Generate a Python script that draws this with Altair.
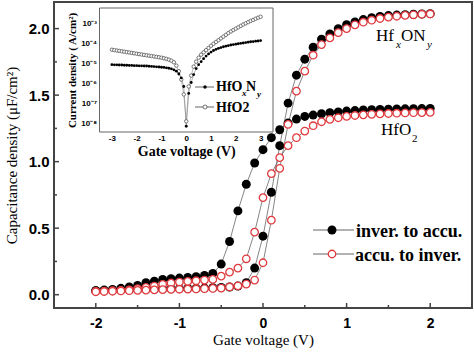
import altair as alt
import numpy as np
import pandas as pd

# ---- C-V sweeps (0.1 V steps from -2 V to 2 V) ----
bias = [round(-2.0 + 0.1 * i, 1) for i in range(41)]

hfo2_inv = [0.030, 0.035, 0.040, 0.048, 0.058, 0.070, 0.090, 0.102, 0.115, 0.120,
            0.125, 0.130, 0.135, 0.145, 0.160, 0.230, 0.400, 0.630, 0.830, 0.990,
            1.090, 1.180, 1.240, 1.290, 1.320, 1.340, 1.350, 1.360, 1.368, 1.374,
            1.380, 1.384, 1.388, 1.390, 1.392, 1.394, 1.396, 1.397, 1.398, 1.399, 1.400]
hfo2_acc = [0.025, 0.027, 0.030, 0.033, 0.037, 0.045, 0.055, 0.065, 0.078, 0.088,
            0.095, 0.100, 0.105, 0.110, 0.115, 0.140, 0.170, 0.200, 0.270, 0.470,
            0.730, 0.910, 1.030, 1.120, 1.180, 1.230, 1.270, 1.300, 1.318, 1.330,
            1.340, 1.347, 1.352, 1.356, 1.359, 1.362, 1.364, 1.366, 1.368, 1.369, 1.370]
hfon_inv = [0.030, 0.032, 0.034, 0.036, 0.038, 0.040, 0.042, 0.043, 0.044, 0.045,
            0.046, 0.047, 0.048, 0.050, 0.052, 0.055, 0.058, 0.065, 0.090, 0.200,
            0.440, 0.770, 1.120, 1.440, 1.650, 1.770, 1.860, 1.920, 1.960, 2.000,
            2.030, 2.050, 2.068, 2.082, 2.092, 2.098, 2.102, 2.105, 2.108, 2.110, 2.112]
hfon_acc = [0.022, 0.024, 0.026, 0.028, 0.030, 0.032, 0.034, 0.036, 0.038, 0.040,
            0.041, 0.042, 0.043, 0.045, 0.047, 0.050, 0.058, 0.066, 0.080, 0.110,
            0.240, 0.560, 0.950, 1.280, 1.530, 1.680, 1.800, 1.880, 1.930, 1.970,
            2.000, 2.028, 2.048, 2.063, 2.076, 2.086, 2.093, 2.099, 2.104, 2.108, 2.110]

# ---- J-V curves (log10 of current density, 0.1 V steps from -3 V to 3 V) ----
iv_bias = [round(-3.0 + 0.1 * i, 1) for i in range(61)]
log_j_hfon = [-5.05, -5.06, -5.06, -5.07, -5.07, -5.08, -5.08, -5.09, -5.09, -5.10,
              -5.10, -5.11, -5.11, -5.12, -5.12, -5.13, -5.14, -5.15, -5.16, -5.17,
              -5.18, -5.19, -5.21, -5.23, -5.26, -5.31, -5.38, -5.52, -5.72, -6.15,
              -8.15, -6.50, -5.95, -5.55, -5.25, -5.05, -4.90, -4.75, -4.62, -4.51,
              -4.42, -4.34, -4.28, -4.23, -4.19, -4.15, -4.12, -4.09, -4.06, -4.04,
              -4.02, -4.00, -3.98, -3.96, -3.94, -3.92, -3.90, -3.89, -3.87, -3.86, -3.84]
log_j_hfo2 = [-4.30, -4.32, -4.34, -4.36, -4.38, -4.40, -4.42, -4.44, -4.46, -4.48,
              -4.50, -4.52, -4.54, -4.56, -4.58, -4.60, -4.62, -4.64, -4.66, -4.68,
              -4.70, -4.73, -4.76, -4.80, -4.85, -4.93, -5.10, -5.38, -5.80, -6.55,
              -7.90, -6.15, -5.60, -5.15, -4.90, -4.70, -4.55, -4.43, -4.32, -4.21,
              -4.10, -4.00, -3.91, -3.82, -3.73, -3.64, -3.55, -3.46, -3.38, -3.31,
              -3.24, -3.17, -3.10, -3.03, -2.97, -2.91, -2.85, -2.80, -2.74, -2.69, -2.64]

x_major = [-2, -1, 0, 1, 2]
x_minor = [-1.5, -0.5, 0.5, 1.5]
y_major = [0.0, 0.5, 1.0, 1.5, 2.0]
y_minor = [0.25, 0.75, 1.25, 1.75]
iv_x_ticks = [-3, -2, -1, 0, 1, 2, 3]
iv_y_ticks = [1e-8, 1e-7, 1e-6, 1e-5, 1e-4, 1e-3]

RED = "#e03a3e"
GREY = "#666666"
FRAME = "#444444"
SERIF = "Liberation Serif"
SANS = "Liberation Sans"
HYPHEN = "replace(datum.label, '\u2212', '-')"

W, H = 418, 306
# inset placement inside the plot area (pixels)
IX0, IX1, IY0, IY1 = 45.5, 219.0, 6.0, 130.0

frames = []
for film, inv, acc in (("HfO2", hfo2_inv, hfo2_acc), ("HfON", hfon_inv, hfon_acc)):
    frames.append(pd.DataFrame({"V": bias, "C": inv, "curve": film + "-inv", "sweep": "inv"}))
    frames.append(pd.DataFrame({"V": bias, "C": acc, "curve": film + "-acc", "sweep": "acc"}))
cv = pd.concat(frames, ignore_index=True)

iv = pd.concat([
    pd.DataFrame({"V": iv_bias, "J": 10 ** np.array(log_j_hfo2), "film": "HfO2"}),
    pd.DataFrame({"V": iv_bias, "J": 10 ** np.array(log_j_hfon), "film": "HfON"}),
], ignore_index=True)

one = pd.DataFrame({"k": [0]})

# ---- main C-V panel ----
xs = alt.Scale(domain=[-2.5, 2.5], nice=False, zero=False)
ys = alt.Scale(domain=[-0.1, 2.2], nice=False, zero=False)
x_enc = alt.X("V:Q", scale=xs, axis=alt.Axis(
    values=x_major, format="d", labelExpr=HYPHEN, ticks=False, domain=False, grid=False,
    labelFont=SANS, labelFontWeight="bold", labelFontSize=14, labelPadding=8,
    labelColor="black", title="Gate voltage (V)", titleFont=SERIF,
    titleFontWeight="normal", titleFontSize=15, titlePadding=2, titleColor="black"))
y_enc = alt.Y("C:Q", scale=ys, axis=alt.Axis(
    values=y_major, format=".1f", ticks=False, domain=False, grid=False,
    labelFont=SANS, labelFontWeight="bold", labelFontSize=15, labelPadding=5,
    labelColor="black", title="Capacitance density (μF/cm²)", titleFont=SERIF,
    titleFontWeight="normal", titleFontSize=15, titlePadding=9, titleColor="black"))

lines = alt.Chart(cv).mark_line(color=GREY, strokeWidth=0.8).encode(
    x=x_enc, y=y_enc, detail="curve:N", order="V:Q")
filled = alt.Chart(cv).transform_filter("datum.sweep == 'inv'").mark_circle(
    color="black", size=80, opacity=1).encode(x=x_enc, y=y_enc)
hollow = alt.Chart(cv).transform_filter("datum.sweep == 'acc'").mark_point(
    shape="circle", fill="white", fillOpacity=1, stroke=RED, strokeWidth=1.3,
    size=56, opacity=1).encode(x=x_enc, y=y_enc)

def x_ticks(vals, length):
    d = pd.DataFrame({"V": vals})
    return alt.Chart(d).mark_rule(color=FRAME, strokeWidth=1.5).encode(
        x=x_enc, y=alt.value(H), y2=alt.value(H - length))

def y_ticks(vals, length):
    d = pd.DataFrame({"C": vals})
    return alt.Chart(d).mark_rule(color=FRAME, strokeWidth=1.5).encode(
        y=y_enc, x=alt.value(0), x2=alt.value(length))

def label(text, x, y, size, font=SERIF, weight="normal", style="normal"):
    return alt.Chart(one).mark_text(
        text=text, font=font, fontSize=size, fontWeight=weight, fontStyle=style,
        align="left", baseline="alphabetic", color="black").encode(
        x=alt.value(x), y=alt.value(y))

def seg(x0, x1, y):
    return alt.Chart(one).mark_rule(color=GREY, strokeWidth=1).encode(
        x=alt.value(x0), x2=alt.value(x1), y=alt.value(y))

legend = [
    seg(259, 300, 228),
    alt.Chart(one).mark_circle(color="black", size=80, opacity=1).encode(
        x=alt.value(278), y=alt.value(228)),
    label("inver. to accu.", 302, 235, 18, weight="bold"),
    seg(259, 300, 252),
    alt.Chart(one).mark_point(shape="circle", fill="white", fillOpacity=1, stroke=RED,
                              strokeWidth=1.3, size=56, opacity=1).encode(
        x=alt.value(278), y=alt.value(252)),
    label("accu. to inver.", 301, 259, 18, weight="bold"),
]

names = [
    label("Hf", 322, 39, 17),
    label("x", 342, 46, 11, style="italic"),
    label("ON", 347, 39, 17),
    label("y", 373, 46, 11, style="italic"),
    label("HfO", 327, 133, 17),
    label("2", 358, 140, 11),
]

main = alt.layer(
    lines, filled, hollow,
    x_ticks(x_major, 5), x_ticks(x_minor, 3), y_ticks(y_major, 5), y_ticks(y_minor, 3),
    *legend, *names)

# ---- inset J-V panel ----
ixs = alt.Scale(domain=[-3.5, 3.5], range=[IX0, IX1], nice=False, zero=False)
iys = alt.Scale(type="log", domain=[10 ** -8.44, 10 ** -2.2], range=[IY1, IY0], nice=False)
sup = "['⁻⁸','⁻⁷','⁻⁶','⁻⁵','⁻⁴','⁻³'][round(log(datum.value)/LN10) + 8]"
ix_enc = alt.X("V:Q", scale=ixs, axis=alt.Axis(
    orient="bottom", offset=-(H - IY1), values=iv_x_ticks, format="d", labelExpr=HYPHEN,
    ticks=False, domain=False, grid=False, labelFont=SANS, labelFontWeight="bold",
    labelFontSize=8, labelPadding=2, labelColor="black",
    title="Gate voltage (V)", titleFont=SERIF, titleFontWeight="bold",
    titleFontSize=14, titlePadding=2, titleColor="black"))
iy_enc = alt.Y("J:Q", scale=iys, axis=alt.Axis(
    orient="left", offset=-IX0, values=iv_y_ticks, labelExpr="'10' + " + sup,
    ticks=False, domain=False, grid=False, labelFont=SANS, labelFontWeight="bold",
    labelFontSize=8, labelPadding=3, labelColor="black",
    title="Current density ( A/cm²)", titleFont=SERIF, titleFontWeight="bold",
    titleFontSize=11, titlePadding=3, titleColor="black"))

box = alt.Chart(one).mark_rect(fill="white", stroke=GREY, strokeWidth=1).encode(
    x=alt.value(IX0), x2=alt.value(IX1), y=alt.value(IY0), y2=alt.value(IY1))
iv_lines = alt.Chart(iv).mark_line(color="#888888", strokeWidth=0.6).encode(
    x=ix_enc, y=iy_enc, detail="film:N", order="V:Q")
iv_open = alt.Chart(iv).transform_filter("datum.film == 'HfO2'").mark_point(
    shape="circle", fill="white", fillOpacity=1, stroke="#555555", strokeWidth=0.8,
    size=12, opacity=1).encode(x=ix_enc, y=iy_enc)
iv_dots = alt.Chart(iv).transform_filter("datum.film == 'HfON'").mark_circle(
    color="black", size=8, opacity=1).encode(x=ix_enc, y=iy_enc)

inset_legend = [
    seg(141, 160, 85),
    alt.Chart(one).mark_circle(color="black", size=12, opacity=1).encode(
        x=alt.value(151), y=alt.value(85)),
    label("HfO", 162, 89, 14, weight="bold"),
    label("x", 188, 94, 9, weight="bold", style="italic"),
    label("N", 192, 89, 14, weight="bold"),
    label("y", 203, 95, 9, weight="bold", style="italic"),
    seg(141, 160, 105),
    alt.Chart(one).mark_point(shape="circle", fill="white", fillOpacity=1, stroke="#555555",
                              strokeWidth=0.8, size=16, opacity=1).encode(
        x=alt.value(151), y=alt.value(105)),
    label("HfO2", 162, 110, 14, weight="bold"),
]

inset = alt.layer(box, iv_lines, iv_open, iv_dots, *inset_legend)

chart = alt.layer(main, inset).resolve_scale(
    x="independent", y="independent").resolve_axis(
    x="independent", y="independent").properties(
    width=W, height=H, autosize=alt.AutoSizeParams(type="none"),
    padding={"left": 54, "top": 2, "right": 2, "bottom": 44},
    background="white").configure_view(stroke=FRAME, strokeWidth=2)

chart.save("out.html", embed_options={"renderer": "svg", "actions": False})
